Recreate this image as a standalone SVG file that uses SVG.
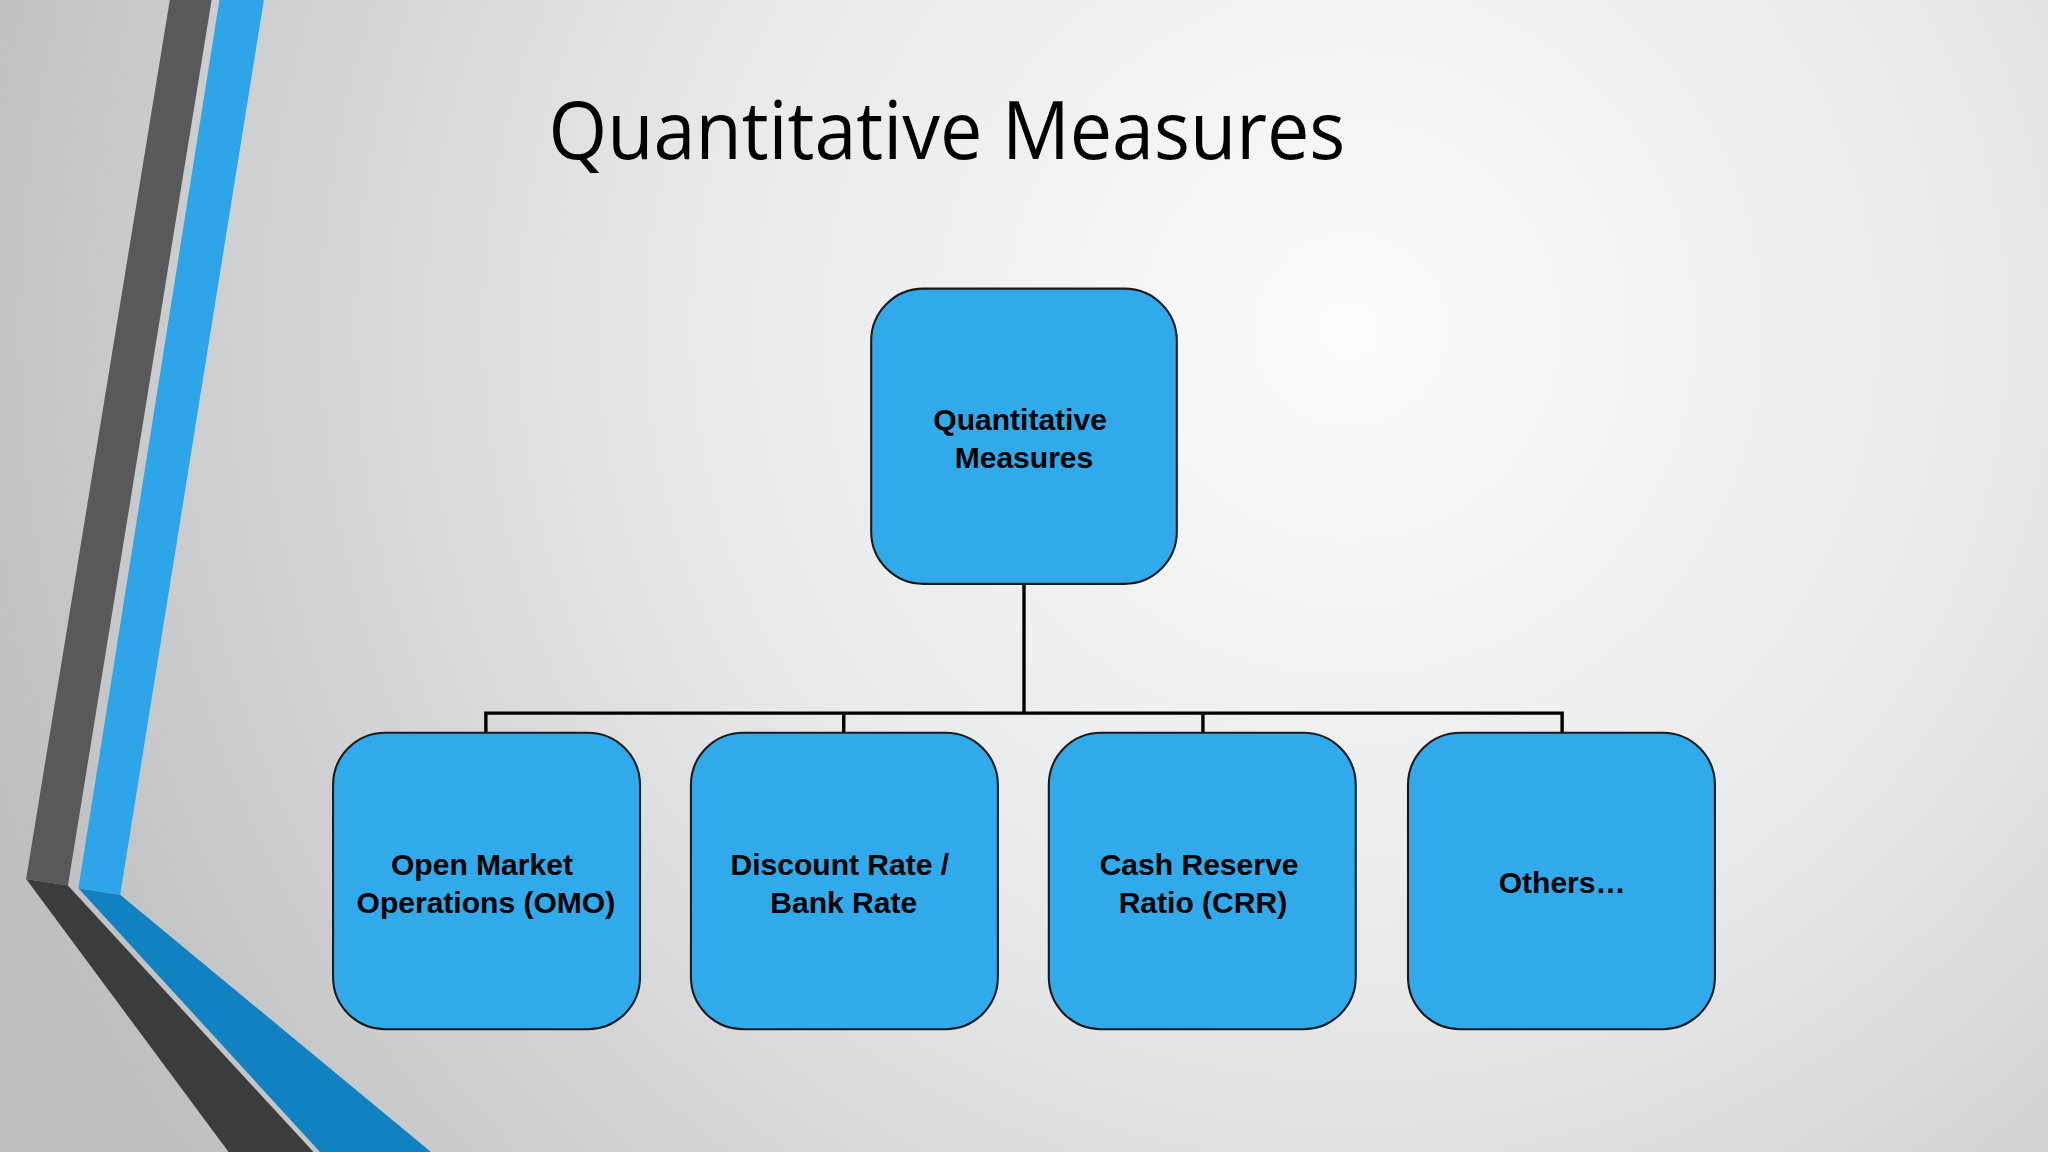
<svg xmlns="http://www.w3.org/2000/svg" width="2048" height="1152" viewBox="0 0 2048 1152">
<defs>
<radialGradient id="bg" cx="1350" cy="330" r="1450" gradientUnits="userSpaceOnUse">
<stop offset="0" stop-color="#fafbfc"/><stop offset="0.45" stop-color="#e8e9ea"/><stop offset="1" stop-color="#bdbec0"/>
</radialGradient>
<style>
.n{fill:#30aaea;stroke:#1a1a1a;stroke-width:1.6}
.t{font-family:"Liberation Sans",Arial,sans-serif;font-weight:bold;font-size:23px;fill:#000;text-anchor:middle}
.c{fill:none;stroke:#000;stroke-width:2.6}
</style>
</defs>
<rect width="2048" height="1152" fill="url(#bg)"/>
<g transform="scale(1.30612)">
<g id="decor">
<polygon points="130,0 162,0 52,678 20,673" fill="#59595b"/>
<polygon points="20,673 52,678 240,882 175,882" fill="#3b3c3e"/>
<polygon points="168,0 202,0 92,685 60,680" fill="#2ea5e8"/>
<polygon points="60,680 92,685 330,882 245,882" fill="#1281c2"/>
</g>
<text x="420" y="122" font-family="'Open Sans','Noto Sans',sans-serif" font-size="62" fill="#000" textLength="610" lengthAdjust="spacingAndGlyphs">Quantitative Measures</text>
<g id="connectors">
<path class="c" d="M784,447V546M372,561V546H1196V561M646,546V561M921,546V561"/>
</g>
<g id="root"><rect class="n" x="667" y="221" width="234" height="226" rx="40"/>
<text class="t" x="781" y="329">Quantitative</text><text class="t" x="784" y="358">Measures</text></g>
<g id="omo"><rect class="n" x="255" y="561" width="235" height="227" rx="40"/>
<text class="t" x="369" y="670">Open Market</text><text class="t" x="372" y="699">Operations (OMO)</text></g>
<g id="discount"><rect class="n" x="529" y="561" width="235" height="227" rx="40"/>
<text class="t" x="643" y="670">Discount Rate /</text><text class="t" x="646" y="699">Bank Rate</text></g>
<g id="crr"><rect class="n" x="803" y="561" width="235" height="227" rx="40"/>
<text class="t" x="918" y="670">Cash Reserve</text><text class="t" x="921" y="699">Ratio (CRR)</text></g>
<g id="others"><rect class="n" x="1078" y="561" width="235" height="227" rx="40"/>
<text class="t" x="1196" y="684">Others…</text></g>
</g>
</svg>
